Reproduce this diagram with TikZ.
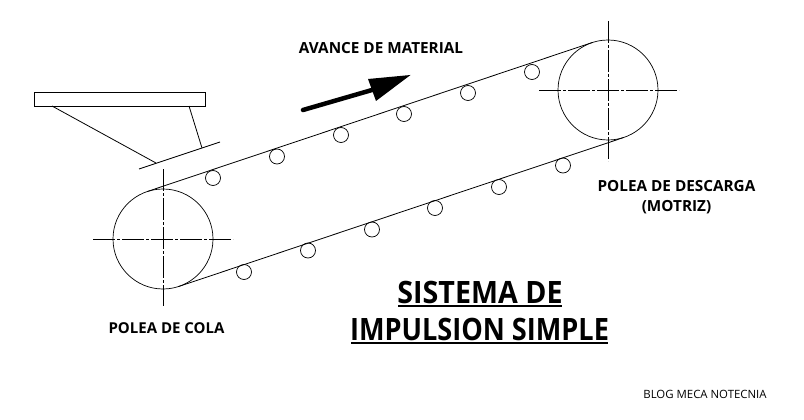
\documentclass[tikz,border=0pt]{standalone}
\usepackage{fontspec}
\setmainfont{Open Sans}
\newfontfamily\headfont[FakeStretch=0.88]{Open Sans}
\newfontfamily\headwide[FakeStretch=0.93]{Open Sans}
\tikzset{
  pulley/.style={draw,circle,minimum size=100pt,inner sep=0pt,line width=0.7pt},
  roller/.style={draw,circle,minimum size=15pt,inner sep=0pt,line width=0.7pt},
  axisline/.style={line width=0.9pt,dash pattern=on 22pt off 2pt on 3pt off 2pt},
  thinline/.style={line width=0.8pt},
  caption/.style={font=\fontsize{15.3}{19.5}\selectfont\bfseries,align=center,inner sep=0pt},
  heading/.style={inner sep=0pt,anchor=base},
  underline/.style={line width=2pt}
}
\begin{document}
\begin{tikzpicture}[x=1pt,y=-1pt]
\useasboundingbox (0,0) rectangle (804,420);

\node[pulley] (cola) at (163,239) {};
\node[pulley] (descarga) at (608,90) {};

% ejes
\coordinate (c1) at (93,239);
\coordinate (c2) at (233,239);
\coordinate (c3) at (163,169);
\coordinate (c4) at (163,306);
\coordinate (d1) at (539,90);
\coordinate (d2) at (679,90);
\coordinate (d3) at (608,21);
\coordinate (d4) at (608,161);
\draw[axisline] (c1) -- (c2);
\draw[axisline] (c3) -- (c4);
\draw[axisline] (d1) -- (d2);
\draw[axisline] (d3) -- (d4);

% banda
\coordinate (t1) at (147,191.6);
\coordinate (t2) at (592,42.6);
\coordinate (b1) at (179,286.4);
\coordinate (b2) at (624,137.4);
\draw[thinline] (t1) -- (t2);
\draw[thinline] (b1) -- (b2);

% rodillos
\foreach \i/\x/\y in {1/213/178,2/277/156.5,3/341/135,4/404/114,5/468/93,6/532/72}
  \node[roller] (rs\i) at (\x,\y) {};
\foreach \i/\x/\y in {1/244/272,2/308/250.5,3/372/229.5,4/435/208,5/499/187,6/563/165.5}
  \node[roller] (ri\i) at (\x,\y) {};

% tolva
\node[draw,thinline,minimum width=171pt,minimum height=14pt,inner sep=0pt] (tolva) at (119.5,99) {};
\coordinate (h1) at (52,106);
\coordinate (h2) at (156,163);
\coordinate (h3) at (189,106);
\coordinate (h4) at (202,148);
\coordinate (f1) at (139,169);
\coordinate (f2) at (220,142);
\draw[thinline] (h1) -- (h2);
\draw[thinline] (h3) -- (h4);
\draw[thinline] (f1) -- (f2);

% flecha
\coordinate (a1) at (303,110);
\coordinate (a2) at (372,90);
\coordinate (a3) at (368,79);
\coordinate (a4) at (410.5,75);
\coordinate (a5) at (376,101);
\draw[line width=4.5pt,line cap=round] (a1) -- (a2);
\fill[line join=round] (a3) -- (a4) -- (a5) -- cycle;

% textos
\node[caption] (avance) at (381,48) {AVANCE DE MATERIAL};
\node[caption] (descargatxt) at (676.5,197) {POLEA DE DESCARGA\\(MOTRIZ)};
\node[caption,font=\fontsize{15}{19}\selectfont\bfseries] (colatxt) at (166.5,328) {POLEA DE COLA};
\node[heading,font=\headwide\fontsize{30.8}{36}\selectfont\bfseries] (sistema) at (480,303) {SISTEMA DE};
\node[heading,font=\headfont\fontsize{30.8}{36}\selectfont\bfseries] (impulsion) at (479.5,340) {IMPULSION SIMPLE};
\node[font=\fontsize{11.4}{13}\selectfont,inner sep=0pt] (blog) at (705,394) {BLOG MECA NOTECNIA};
\coordinate (s1) at (398,306);
\coordinate (s2) at (562,306);
\coordinate (s3) at (351,342.5);
\coordinate (s4) at (608,342.5);
\draw[underline] (s1) -- (s2);
\draw[underline] (s3) -- (s4);
\end{tikzpicture}
\end{document}
